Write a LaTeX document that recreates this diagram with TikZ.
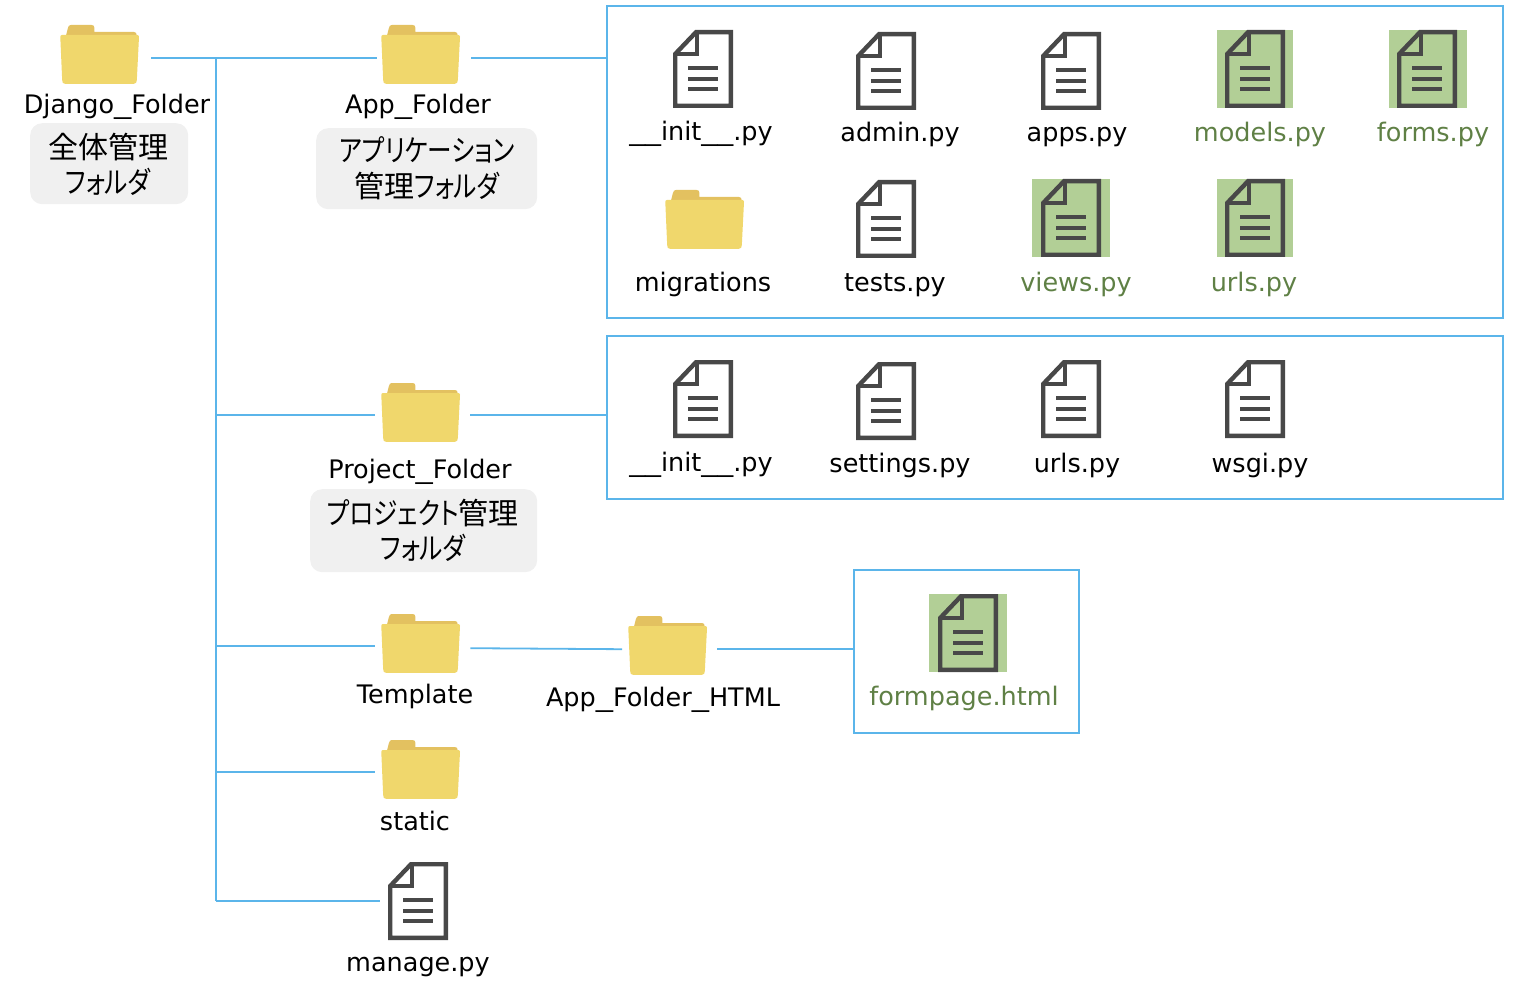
\documentclass[tikz,border=0pt]{standalone}
\usepackage{fontspec}
\setmainfont{DejaVu Sans}
\newfontfamily\cjk[RawFeature=+palt]{Noto Sans CJK JP}
\newcommand{\us}{\scalebox{1.35}[1]{\_}}
\newcommand{\ui}{\scalebox{1.25}[1]{\_}}
\newcommand{\kn}[1]{\scalebox{.82}[1]{#1}}
\definecolor{wire}{HTML}{5BB5EA}
\definecolor{foldf}{HTML}{F0D76C}
\definecolor{foldb}{HTML}{E3C160}
\definecolor{ink}{HTML}{484848}
\definecolor{leaf}{HTML}{B2CF96}
\definecolor{leaftxt}{HTML}{5F8045}
\definecolor{pill}{HTML}{F0F0F0}
\tikzset{
 wirel/.style={draw=wire,line width=1.8pt},
 boxn/.style={draw=wire,line width=1.8pt,rectangle,inner sep=0pt},
 lab/.style={inner sep=0pt,text=black,font=\fontsize{25.5}{28}\selectfont,text height=23.5pt,text depth=5.5pt},
 glab/.style={lab,text=leaftxt},
 pilln/.style={fill=pill,rounded corners=12pt,inner sep=0pt},
 jp/.style={inner sep=0pt,text=black,font=\cjk\fontsize{30}{34}\selectfont,align=center},
 slot/.style={inner sep=0pt,minimum width=79pt,minimum height=60pt},
 fslot/.style={inner sep=0pt,minimum width=60pt,minimum height=78pt}
}
% \fold{name}{left}{top}
\newcommand{\fold}[3]{%
 \node[slot,anchor=north west] (#1) at (#2,#3) {};
 \begin{scope}[shift={(#2,#3)},xscale=.985]
  \fill[foldb] (6,11) -- (8,3) .. controls (8.5,1) and (9.5,0) .. (11,0) -- (32,0) .. controls (34,0) and (35,1) .. (35,3) -- (35,7) -- (75,7) .. controls (77,7) and (78,8) .. (78,11) -- cycle;
  \fill[foldf] (2,10) -- (78.5,10) .. controls (79.7,10) and (80.3,11) .. (80.2,12) -- (78,55) .. controls (78,57.5) and (77,58.8) .. (75,58.8) -- (5,58.8) .. controls (3,58.8) and (2.2,57.5) .. (2.2,55) -- (0.3,12) .. controls (0.3,11) and (0.8,10) .. (2,10) -- cycle;
 \end{scope}}
% \doc{name}{left}{top}
\newcommand{\doc}[3]{%
 \node[fslot,anchor=north west] (#1) at (#2,#3) {};
 \begin{scope}[shift={(#2,#3)}]
  \draw[ink,line width=4.4pt,miter limit=4] (2.2,24) -- (23,2.2) -- (57.8,2.2) -- (57.8,75.8) -- (2.2,75.8) -- cycle;
  \draw[ink,line width=3.2pt,line join=miter] (2.2,24) -- (24,24) -- (24,2.2);
  \foreach \yy in {38,49,59} \draw[ink,line width=3.6pt] (15,\yy) -- (45,\yy);
 \end{scope}}
\newcommand{\gdoc}[5]{% name,left,top,bgleft,bgright
 \fill[leaf] (#4,#3) rectangle (#5,#3+78);
 \doc{#1}{#2}{#3}}
\begin{document}
\begin{tikzpicture}[x=1pt,y=-1pt]
\useasboundingbox (0,0) rectangle (1536,984);
% containers
\node[boxn,minimum width=896pt,minimum height=312pt,anchor=north west] (boxa) at (606,5) {};
\node[boxn,minimum width=896pt,minimum height=163pt,anchor=north west] (boxp) at (606,335) {};
\node[boxn,minimum width=225pt,minimum height=163pt,anchor=north west] (boxh) at (853,569) {};
% folders
\fold{dj}{60}{25}
\fold{app}{381}{25}
\fold{mig}{665}{190}
\fold{proj}{381}{383}
\fold{tmpl}{381}{614}
\fold{html}{628}{616}
\fold{stat}{381}{740}
% files
\doc{fa}{673}{30}
\doc{fb}{856}{32}
\doc{fc}{1041}{32}
\gdoc{fd}{1225}{30}{1217}{1293}
\gdoc{fe}{1397}{30}{1389}{1467}
\doc{ff}{856}{180}
\gdoc{fg}{1041}{179}{1032}{1110}
\gdoc{fh}{1225}{179}{1217}{1293}
\doc{pa}{673}{360}
\doc{pb}{856}{362}
\doc{pc}{1041}{360}
\doc{pd}{1225}{360}
\gdoc{ha}{938}{594}{929}{1007}
\doc{mn}{388}{862}
% pills
\node[pilln,minimum width=158pt,minimum height=81pt,anchor=north west] (p1) at (30,123) {};
\node[pilln,minimum width=221pt,minimum height=81pt,anchor=north west] (p2) at (316,128) {};
\node[pilln,minimum width=227pt,minimum height=83pt,anchor=north west] (p3) at (310,489) {};
\node[jp] (j1a) at (108,147) {全体管理};
\node[jp] (j1b) at (108,182) {\kn{フォルダ}};
\node[jp] (j2a) at (427,150) {\kn{アプリケーション}};
\node[jp] (j2b) at (427,186) {管理\kn{フォルダ}};
\node[jp] (j3a) at (423,513) {\kn{プロジェクト}管理};
\node[jp] (j3b) at (423,548) {\kn{フォルダ}};
% labels
\node[lab] (l1) at (117,105) {Django\us Folder};
\node[lab] (l2) at (418,105) {App\us Folder};
\node[lab] (l3) at (420,469) {Project\us Folder};
\node[lab] (l4) at (415,694) {Template};
\node[lab] (l5) at (663,697) {App\us Folder\us HTML};
\node[lab] (l6) at (415,821) {static};
\node[lab] (l7) at (418,962) {manage.py};
\node[lab] (a1) at (701,132) {\ui\ui init\ui\ui.py};
\node[lab] (a2) at (900,133) {admin.py};
\node[lab] (a3) at (1077,133) {apps.py};
\node[glab] (a4) at (1260,133) {models.py};
\node[glab] (a5) at (1433,133) {forms.py};
\node[lab] (a6) at (703,282) {migrations};
\node[lab] (a7) at (895,282) {tests.py};
\node[glab] (a8) at (1076,282) {views.py};
\node[glab] (a9) at (1254,282) {urls.py};
\node[lab] (b1) at (701,462) {\ui\ui init\ui\ui.py};
\node[lab] (b2) at (900,463) {settings.py};
\node[lab] (b3) at (1077,463) {urls.py};
\node[lab] (b4) at (1260,463) {wsgi.py};
\node[glab] (c1) at (964,696) {formpage.html};
% connectors
\coordinate (trunk) at (216,58);
\coordinate (tend) at (216,901);
\draw[wirel] ([xshift=12pt]dj.east |- trunk) -- ([xshift=-4pt]app.west |- trunk);
\draw[wirel] (trunk) -- (tend);
\draw[wirel] ([yshift=-2pt]trunk |- proj.west) -- ([xshift=-6pt,yshift=-2pt]proj.west);
\draw[wirel] ([yshift=-2pt]trunk |- tmpl.west) -- ([xshift=-6pt,yshift=-2pt]tmpl.west);
\draw[wirel] ([yshift=-2pt]trunk |- stat.west) -- ([xshift=-6pt,yshift=-2pt]stat.west);
\draw[wirel] (tend) -- ([xshift=-8pt]mn.west |- tend);
\draw[wirel] ([xshift=11pt]app.east |- trunk) -- (trunk -| boxa.west);
\draw[wirel] ([xshift=10pt,yshift=-2pt]proj.east) -- ([yshift=-2pt]proj.east -| boxp.west);
\draw[wirel] ([xshift=10pt,yshift=-4pt]tmpl.east) -- ([xshift=-6pt,yshift=-3pt]html.west);
\draw[wirel] ([xshift=10pt,yshift=-3pt]html.east) -- ([yshift=-3pt]html.east -| boxh.west);
\end{tikzpicture}
\end{document}
